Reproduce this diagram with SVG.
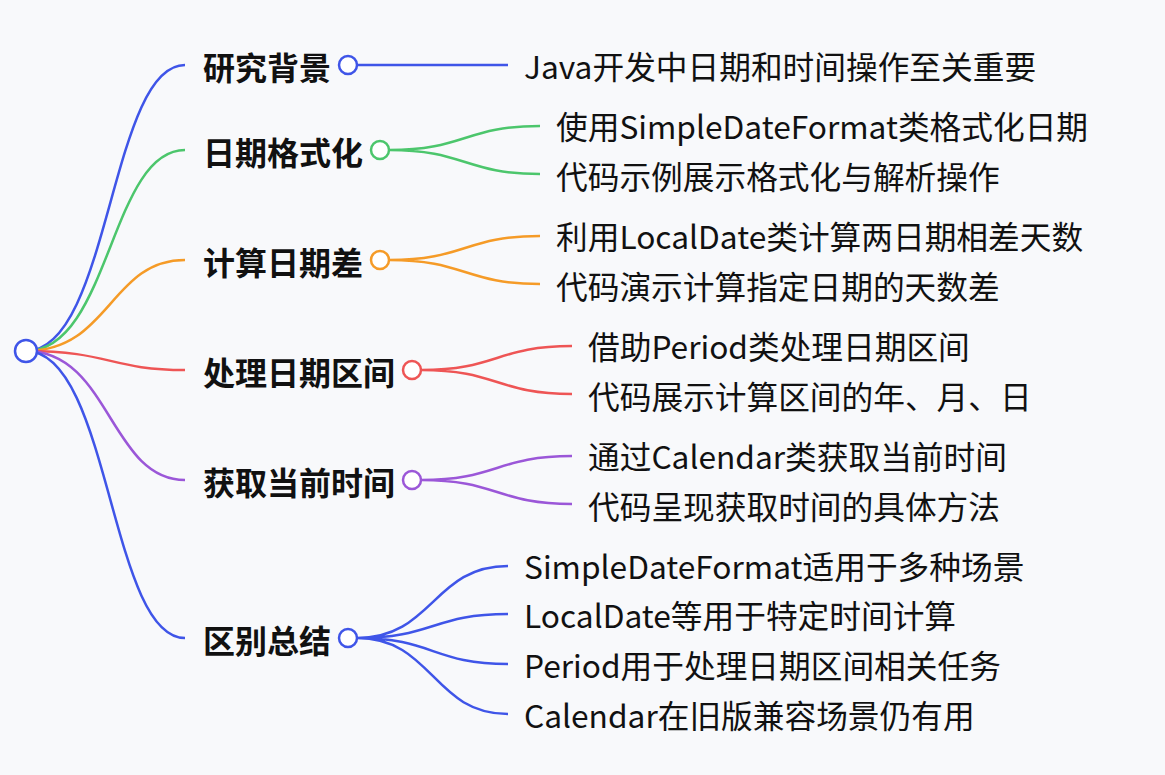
<svg xmlns="http://www.w3.org/2000/svg" width="1165" height="775" viewBox="0 0 1165 775">
<style>
.b{font-family:"Noto Sans CJK SC","Noto Sans",sans-serif;font-size:32px;font-weight:bold;fill:#111;dominant-baseline:central}
.t{font-family:"Noto Sans CJK SC","Noto Sans",sans-serif;font-size:31.7px;fill:#111;dominant-baseline:central}
path{fill:none;stroke-width:2.5}
circle{fill:#fff;stroke-width:2.5}
</style>
<rect width="1165" height="775" fill="#f8f9fb"/>
<g id="connectors">
<path d="M26,351 C110,351 110,65 185,65" stroke="#3f55e8"/>
<path d="M26,351 C110,351 110,150 185,150" stroke="#4cc66c"/>
<path d="M26,351 C110,351 110,260 185,260" stroke="#f59b27"/>
<path d="M26,351 C110,351 110,370 185,370" stroke="#ee5555"/>
<path d="M26,351 C110,351 110,480 185,480" stroke="#9b57d8"/>
<path d="M26,351 C110,351 110,638 185,638" stroke="#3f55e8"/>
<path d="M357,65 L508,65" stroke="#3f55e8"/>
<path d="M389,150 C465,150 465,126 540,126 M389,150 C465,150 465,174 540,174" stroke="#4cc66c"/>
<path d="M389,260 C465,260 465,236 540,236 M389,260 C465,260 465,284 540,284" stroke="#f59b27"/>
<path d="M421,370 C497,370 497,346 572,346 M421,370 C497,370 497,394 572,394" stroke="#ee5555"/>
<path d="M421,480 C497,480 497,456 572,456 M421,480 C497,480 497,504 572,504" stroke="#9b57d8"/>
<path d="M357,638 C433,638 433,566 508,566 M357,638 C433,638 433,614 508,614 M357,638 C433,638 433,664 508,664 M357,638 C433,638 433,714 508,714" stroke="#3f55e8"/>
</g>
<g id="root"><circle cx="26" cy="351" r="11" stroke="#3f55e8" stroke-width="3"/></g>
<g id="n1"><text class="b" x="203" y="66">研究背景</text><circle cx="348" cy="65" r="9" stroke="#3f55e8"/></g>
<g id="n2"><text class="b" x="203" y="151">日期格式化</text><circle cx="380" cy="150" r="9" stroke="#4cc66c"/></g>
<g id="n3"><text class="b" x="203" y="261">计算日期差</text><circle cx="380" cy="260" r="9" stroke="#f59b27"/></g>
<g id="n4"><text class="b" x="203" y="371">处理日期区间</text><circle cx="412" cy="370" r="9" stroke="#ee5555"/></g>
<g id="n5"><text class="b" x="203" y="481">获取当前时间</text><circle cx="412" cy="480" r="9" stroke="#9b57d8"/></g>
<g id="n6"><text class="b" x="203" y="639">区别总结</text><circle cx="348" cy="638" r="9" stroke="#3f55e8"/></g>
<g id="c1"><text class="t" x="524" y="65">Java开发中日期和时间操作至关重要</text></g>
<g id="c2"><text class="t" x="556" y="125">使用SimpleDateFormat类格式化日期</text></g>
<g id="c3"><text class="t" x="556" y="175">代码示例展示格式化与解析操作</text></g>
<g id="c4"><text class="t" x="556" y="235">利用LocalDate类计算两日期相差天数</text></g>
<g id="c5"><text class="t" x="556" y="285">代码演示计算指定日期的天数差</text></g>
<g id="c6"><text class="t" x="588" y="345">借助Period类处理日期区间</text></g>
<g id="c7"><text class="t" x="588" y="395">代码展示计算区间的年、月、日</text></g>
<g id="c8"><text class="t" x="588" y="455">通过Calendar类获取当前时间</text></g>
<g id="c9"><text class="t" x="588" y="505">代码呈现获取时间的具体方法</text></g>
<g id="c10"><text class="t" x="524" y="565">SimpleDateFormat适用于多种场景</text></g>
<g id="c11"><text class="t" x="524" y="614">LocalDate等用于特定时间计算</text></g>
<g id="c12"><text class="t" x="524" y="664">Period用于处理日期区间相关任务</text></g>
<g id="c13"><text class="t" x="524" y="714">Calendar在旧版兼容场景仍有用</text></g>
</svg>
